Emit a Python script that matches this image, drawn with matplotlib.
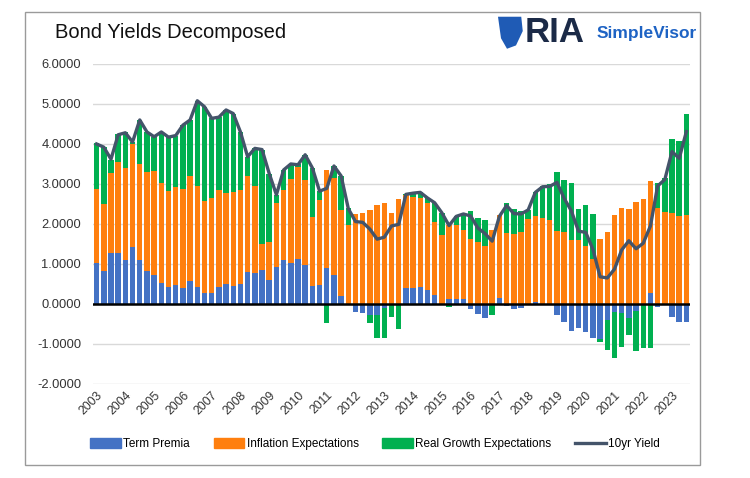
import matplotlib
matplotlib.use("Agg")
import matplotlib.pyplot as plt
import numpy as np
from matplotlib.patches import Rectangle, Polygon
from matplotlib.lines import Line2D

plt.rcParams['font.family'] = ['Liberation Sans', 'DejaVu Sans']

# Quarterly data 2003Q1 .. 2023Q3
years = [str(y) for y in range(2003, 2024)]

term_premia = [1.03, 0.82, 1.27, 1.28, 1.10, 1.42, 1.09, 0.82, 0.73, 0.53,
               0.43, 0.47, 0.39, 0.58, 0.42, 0.27, 0.28, 0.43, 0.50, 0.46,
               0.51, 0.80, 0.78, 0.84, 0.60, 0.93, 1.10, 1.03, 1.13, 0.97,
               0.46, 0.47, 0.90, 0.73, 0.19, -0.02, -0.19, -0.23, -0.27, -0.27,
               -0.10, 0.00, 0.00, 0.41, 0.41, 0.42, 0.36, 0.23, 0.00, 0.13,
               0.13, 0.13, -0.13, -0.25, -0.35, 0.00, 0.15, -0.06, -0.12, -0.10,
               0.00, 0.06, 0.00, -0.03, -0.27, -0.45, -0.68, -0.59, -0.70, -0.86,
               -0.88, -0.40, -0.19, -0.22, -0.36, -0.17, -0.02, 0.27, -0.08, 0.00,
               -0.32, -0.44, -0.44]

inflation_exp = [1.84, 1.68, 2.01, 2.27, 2.30, 2.59, 2.40, 2.49, 2.59, 2.49,
                 2.40, 2.45, 2.48, 2.61, 2.52, 2.30, 2.37, 2.41, 2.28, 2.34,
                 2.35, 2.40, 2.17, 0.66, 0.95, 1.60, 1.76, 2.09, 2.30, 2.14,
                 1.72, 2.13, 2.46, 2.42, 2.16, 1.98, 2.25, 2.27, 2.35, 2.48,
                 2.53, 2.28, 2.62, 2.32, 2.26, 2.22, 2.17, 1.82, 1.72, 1.85,
                 1.84, 1.71, 1.63, 1.54, 1.44, 1.84, 2.07, 1.78, 1.75, 1.80,
                 2.12, 2.13, 2.15, 2.10, 1.83, 1.79, 1.61, 1.61, 1.45, 1.12,
                 1.62, 1.81, 2.23, 2.41, 2.37, 2.56, 2.62, 2.81, 2.39, 2.31,
                 2.27, 2.20, 2.22]

real_growth = [1.15, 1.42, 0.32, 0.69, 0.90, 0.04, 1.11, 0.99, 0.86, 1.28,
               1.34, 1.29, 1.60, 1.41, 2.14, 2.36, 1.99, 1.83, 2.07, 1.96,
               1.44, 0.48, 0.94, 2.36, 1.71, 0.20, 0.49, 0.38, 0.06, 0.62,
               1.22, 0.22, -0.47, 0.30, 0.85, 0.42, 0.00, 0.00, -0.21, -0.59,
               -0.76, -0.33, -0.63, 0.01, 0.10, 0.15, 0.12, 0.48, 0.56, -0.07,
               0.22, 0.41, 0.69, 0.61, 0.67, -0.27, -0.03, 0.74, 0.63, 0.52,
               0.23, 0.61, 0.80, 0.90, 1.48, 1.30, 1.41, 0.77, 1.03, 1.12,
               -0.06, -0.75, -1.17, -0.85, -0.42, -1.00, -1.09, -1.11, 0.63, 0.83,
               1.85, 1.88, 2.53]

yield_10yr = [4.00, 3.92, 3.62, 4.23, 4.28, 4.05, 4.60, 4.30, 4.18, 4.30,
              4.17, 4.21, 4.47, 4.60, 5.08, 4.93, 4.64, 4.67, 4.85, 4.76,
              4.30, 3.68, 3.89, 3.86, 3.26, 2.73, 3.35, 3.50, 3.48, 3.73,
              3.40, 2.82, 2.89, 3.45, 3.20, 2.38, 2.06, 2.04, 1.87, 1.62,
              1.67, 1.95, 1.99, 2.74, 2.77, 2.79, 2.65, 2.53, 2.28, 1.96,
              2.19, 2.25, 2.20, 1.90, 1.76, 1.57, 2.19, 2.46, 2.26, 2.25,
              2.35, 2.79, 2.93, 2.94, 3.04, 2.64, 2.33, 1.82, 1.79, 1.37,
              0.68, 0.65, 0.87, 1.35, 1.58, 1.38, 1.52, 1.95, 2.95, 3.11,
              3.81, 3.64, 4.31]

series_names = ['Term Premia', 'Inflation Expectations', 'Real Growth Expectations']
series_colors = ['#4472C4', '#FF7F0E', '#00B050']
line_color = '#44546A'

fig = plt.figure(figsize=(7.5, 4.78), dpi=100)
fig.patch.set_facecolor('white')

# outer frame
fig.add_artist(Rectangle((0.033, 0.027), 0.90, 0.948, transform=fig.transFigure,
                         fill=False, edgecolor='#9a9a9a', linewidth=1.0))

ax = fig.add_axes([0.124, 0.1967, 0.796, 0.6695])
x = np.arange(len(yield_10yr))

pos_bottom = np.zeros(len(x))
neg_bottom = np.zeros(len(x))
for vals, color, name in zip([term_premia, inflation_exp, real_growth], series_colors, series_names):
    v = np.array(vals)
    bottoms = np.where(v >= 0, pos_bottom, neg_bottom)
    ax.bar(x, v, bottom=bottoms, width=0.76, color=color, label=name, zorder=2, linewidth=0)
    pos_bottom = pos_bottom + np.where(v >= 0, v, 0)
    neg_bottom = neg_bottom + np.where(v < 0, v, 0)

ax.plot(x, yield_10yr, color=line_color, linewidth=2.4, zorder=4, label='10yr Yield',
        solid_joinstyle='round')
ax.axhline(0, color='black', linewidth=1.8, zorder=3)

ax.set_ylim(-2, 6)
ax.set_xlim(-0.5, len(x) - 0.5)
ax.set_yticks(np.arange(-2, 6.01, 1))
ax.set_yticklabels([f"{v:.4f}" for v in np.arange(-2, 6.01, 1)])
ax.yaxis.grid(True, color='#D9D9D9', linewidth=1.0, zorder=0)
ax.set_axisbelow(True)
for s in ax.spines.values():
    s.set_visible(False)
ax.tick_params(axis='y', length=0, labelsize=9.3, colors='#333333', pad=8.5)

ax.set_xticks(np.arange(0, len(x), 4))
ax.set_xticklabels(years, rotation=45, ha='right', rotation_mode='anchor')
ax.tick_params(axis='x', length=0, labelsize=8.8, colors='#333333', pad=4)

handles = [Rectangle((0, 0), 1, 1, color=c) for c in series_colors]
handles.append(Line2D([0], [0], color=line_color, linewidth=2.4))
fig.legend(handles, series_names + ['10yr Yield'], loc='center', bbox_to_anchor=(0.5, 0.071),
           ncol=4, frameon=False, fontsize=8.5, handlelength=2.6, handleheight=0.85,
           handletextpad=0.2, columnspacing=2.0)

# title
fig.text(0.073, 0.932, 'Bond Yields Decomposed', fontsize=14.5, color='#111111',
         ha='left', va='center')

# logo
fig.add_artist(Polygon([[0.664, 0.965], [0.695, 0.965], [0.697, 0.935], [0.688, 0.905],
                        [0.676, 0.898], [0.668, 0.92]], closed=True,
                       transform=fig.transFigure, facecolor='#1F5BB5', edgecolor='none'))
fig.text(0.699, 0.932, 'RIA', fontsize=25, color='#1B2A47', ha='left', va='center',
         fontweight='bold')
fig.text(0.795, 0.929, 'SimpleVisor', fontsize=12.5, color='#1E63C4', ha='left', va='center',
         fontweight='bold')

fig.savefig('out.png', dpi=100, facecolor='white')
